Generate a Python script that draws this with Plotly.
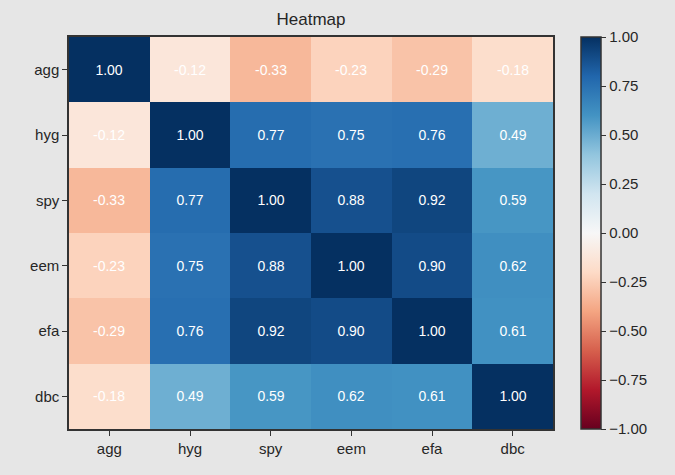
import plotly.graph_objects as go

labels = ["agg", "hyg", "spy", "eem", "efa", "dbc"]
row_agg = [1.00, -0.12, -0.33, -0.23, -0.29, -0.18]
row_hyg = [-0.12, 1.00, 0.77, 0.75, 0.76, 0.49]
row_spy = [-0.33, 0.77, 1.00, 0.88, 0.92, 0.59]
row_eem = [-0.23, 0.75, 0.88, 1.00, 0.90, 0.62]
row_efa = [-0.29, 0.76, 0.92, 0.90, 1.00, 0.61]
row_dbc = [-0.18, 0.49, 0.59, 0.62, 0.61, 1.00]
z = [row_agg, row_hyg, row_spy, row_eem, row_efa, row_dbc]

cb_ticks = [-1.0, -0.75, -0.5, -0.25, 0.0, 0.25, 0.5, 0.75, 1.0]

rdbu = ["#67001f", "#b2182b", "#d6604d", "#f4a582", "#fddbc7", "#f7f7f7",
        "#d1e5f0", "#92c5de", "#4393c3", "#2166ac", "#053061"]
colorscale = [[i / 10, c] for i, c in enumerate(rdbu)]

W, H = 675, 475
L, R, T, B = 69, 553, 37, 429
pw = R - L
FONT = "Liberation Sans, Arial"

fig = go.Figure(go.Heatmap(
    z=z, x=labels, y=labels, zmin=-1, zmax=1, colorscale=colorscale,
    texttemplate="%{z:.2f}",
    textfont=dict(color="white", size=14, family=FONT),
    colorbar=dict(
        x=(581 - L) / pw, xanchor="left", xpad=0, ypad=0,
        y=0.5, yanchor="middle", len=1, lenmode="fraction",
        thickness=20, thicknessmode="pixels",
        outlinewidth=1.5, outlinecolor="#333333",
        tickvals=cb_ticks, tickformat=".2f",
        ticks="outside", ticklen=5, tickwidth=1.2, tickcolor="#333333",
        tickfont=dict(size=15, color="#262626", family=FONT),
    ),
    showscale=True,
))

axis_common = dict(
    showline=True, mirror=True, linewidth=1.5, linecolor="#333333",
    ticks="outside", ticklen=5, tickwidth=1.2, tickcolor="#333333",
    showgrid=False, zeroline=False,
    tickfont=dict(size=15, color="#262626", family=FONT),
)

fig.update_layout(
    width=W, height=H,
    margin=dict(l=L, r=W - R, t=T, b=H - B),
    paper_bgcolor="#e6e6e6", plot_bgcolor="#e6e6e6",
    title=dict(text="Heatmap", x=(L + pw / 2) / W, xanchor="center",
               y=1 - 19 / H, yanchor="middle",
               font=dict(size=17, color="#262626", family=FONT)),
    xaxis=dict(**axis_common),
    yaxis=dict(**axis_common, autorange="reversed"),
    font=dict(family=FONT),
)

fig.write_html(
    "out.html",
    config={"displayModeBar": False},
    post_script="document.body.style.margin='0';document.body.style.background='#e6e6e6';",
)
